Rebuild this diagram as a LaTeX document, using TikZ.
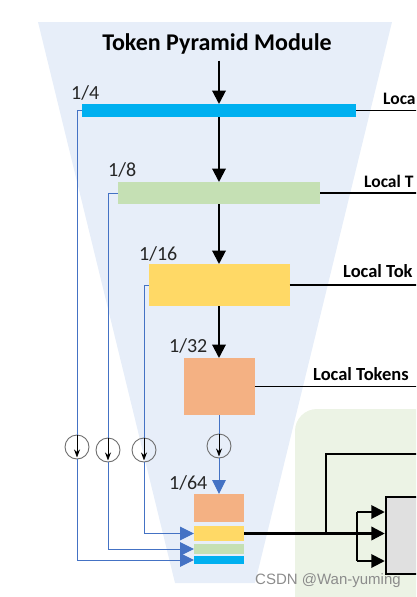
\documentclass[tikz,border=0pt]{standalone}
\usepackage{fontspec}
\setmainfont{Carlito}
\newfontfamily\wmfont{Liberation Sans}
\usetikzlibrary{arrows.meta}
\definecolor{pyrbg}{HTML}{E7EEF9}
\definecolor{grnbg}{HTML}{ECF3E5}
\definecolor{cbar}{HTML}{00B0F0}
\definecolor{gbar}{HTML}{C5E0B4}
\definecolor{ybar}{HTML}{FFD966}
\definecolor{obar}{HTML}{F4B183}
\definecolor{bline}{HTML}{4472C4}
\definecolor{ringc}{HTML}{6E6E6E}
\definecolor{gboxc}{HTML}{E0E0E0}
\begin{document}
\begin{tikzpicture}[x=1pt,y=-1pt,
  bar/.style={inner sep=0, outer sep=0, draw=none},
  scalelbl/.style={anchor=base west, inner sep=0, font=\fontsize{20}{24}\selectfont, text=black!85},
  loclbl/.style={anchor=base west, inner sep=0, font=\fontsize{18.5}{22}\selectfont\bfseries},
  darrow/.style={line width=2pt, -{Triangle[length=13.5pt,width=13.5pt]}},
  bconn/.style={bline, line width=1pt},
  barrow/.style={bline, line width=1pt, -{Triangle[length=14pt,width=13.5pt]}},
  ring/.style={circle, draw=ringc, line width=0.9pt, minimum size=24pt, inner sep=0},
  ringarrow/.style={line width=0.8pt, shorten >=2pt, -{Stealth[length=8pt,width=6pt]}},
  mainline/.style={line width=2.5pt},
  forkline/.style={line width=2pt},
  forkarrow/.style={line width=2pt, -{Triangle[length=13.5pt,width=13.5pt]}},
  mainarrow/.style={line width=2.5pt, -{Triangle[length=13.5pt,width=13.5pt]}}
]
\useasboundingbox (0,0) rectangle (416,597);
\clip (0,0) rectangle (416,597);
% backgrounds
\fill[pyrbg] (38,22) -- (392,22) -- (255,583) -- (175,583) -- cycle;
\fill[grnbg, rounded corners=22pt] (295,409) rectangle (460,650);
\coordinate (R) at (425,0);
% title
\node[font=\fontsize{24}{28}\selectfont\bfseries, inner sep=0] (T) at (217,44) {Token Pyramid Module};
% bars
\node[bar, fill=cbar, minimum width=274pt, minimum height=13pt] (b4) at (219,110.5) {};
\node[bar, fill=gbar, minimum width=202pt, minimum height=22pt] (b8) at (219,193) {};
\node[bar, fill=ybar, minimum width=141pt, minimum height=42pt] (b16) at (219,285) {};
\node[bar, fill=obar, minimum width=71pt, minimum height=57pt] (b32) at (219,386.5) {};
\node[bar, fill=obar, minimum width=50pt, minimum height=28pt] (s64o) at (219,508) {};
\node[bar, fill=ybar, minimum width=50pt, minimum height=15pt] (s64y) at (219,533.5) {};
\node[bar, fill=gbar, minimum width=50pt, minimum height=10pt] (s64g) at (219,549) {};
\node[bar, fill=cbar, minimum width=50pt, minimum height=8pt] (s64c) at (219,560) {};
% scale labels
\node[scalelbl] (l4) at (71,99) {1/4};
\node[scalelbl] (l8) at (108,176) {1/8};
\node[scalelbl] (l16) at (139,260) {1/16};
\node[scalelbl] (l32) at (169,352) {1/32};
\node[scalelbl] (l64) at (169,489) {1/64};
% downward black arrows
\draw[darrow, shorten <=6pt] (T.south -| b4.north) -- (b4.north);
\draw[darrow] (b4.south) -- (b8.north);
\draw[darrow] (b8.south) -- (b16.north);
\draw[darrow] (b16.south) -- (b32.north);
% local token lines
\draw[line width=1.3pt] (b4.east) -- (b4.east -| R);
\draw[line width=1.3pt] (b8.east) -- (b8.east -| R);
\draw[line width=1.3pt] (b16.east) -- (b16.east -| R);
\draw[line width=1.3pt] (b32.east) -- (b32.east -| R);
\node[loclbl, font=\fontsize{17.5}{21}\selectfont\bfseries] (t4) at (383,104) {Loca};
\node[loclbl, font=\fontsize{17.5}{21}\selectfont\bfseries] (t8) at (364,187) {Local T};
\node[loclbl] (t16) at (343,277) {Local Tok};
\node[loclbl] (t32) at (313,380) {Local Tokens};
% rings
\node[ring] (o1) at (77,447) {};
\node[ring] (o2) at (108,450) {};
\node[ring] (o3) at (144,450) {};
\node[ring] (o4) at (219,446) {};
\draw[ringarrow] (o1.north) -- (o1.south);
\draw[ringarrow] (o2.north) -- (o2.south);
\draw[ringarrow] (o3.north) -- (o3.south);
\draw[ringarrow] (o4.north) -- (o4.south);
% blue connectors
\draw[bconn] (b4.west) -| (o1.north);
\draw[bconn] (b8.west) -| (o2.north);
\draw[bconn] (b16.west) -| (o3.north);
\draw[bconn] (b32.south) -- (o4.north);
\draw[barrow] (o1.south) |- (s64c.west);
\draw[barrow] (o2.south) |- (s64g.west);
\draw[barrow] (o3.south) |- (s64y.west);
\draw[barrow] (o4.south) -- (s64o.north);
% gray box and fusion
\node[draw=black, line width=2.5pt, fill=gboxc, minimum width=60pt, minimum height=77pt, inner sep=0] (G) at (416,535.5) {};
\coordinate (J) at (326,454);
\coordinate (F1) at (357,512);
\coordinate (F2) at (357,561);
\draw[mainline] (J |- s64y.east) -- (J) -- (J -| R);
\draw[forkline] (F1) -- (F2);
\draw[forkarrow] (F1) -- (F1 -| G.west);
\draw[forkarrow] (F2) -- (F2 -| G.west);
\draw[mainarrow] (s64y.east) -- (s64y.east -| G.west);
% watermark
\node[anchor=base west, inner sep=0, font=\wmfont\fontsize{15}{18}\selectfont, text=black!45] (wm) at (255,584) {CSDN @Wan-yuming};
\end{tikzpicture}
\end{document}
